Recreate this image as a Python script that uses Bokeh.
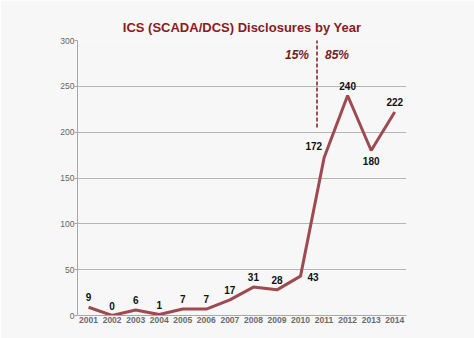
from bokeh.plotting import figure
from bokeh.models import ColumnDataSource, FixedTicker, Range1d, Label
from bokeh.core.properties import value
from bokeh.embed import file_html
from bokeh.resources import INLINE

years = [2001, 2002, 2003, 2004, 2005, 2006, 2007, 2008, 2009, 2010, 2011, 2012, 2013, 2014]
disclosures = [9, 0, 6, 1, 7, 7, 17, 31, 28, 43, 172, 240, 180, 222]
y_ticks = [0, 50, 100, 150, 200, 250, 300]
split_year = 2010.7
split_left = "15%"
split_right = "85%"
title_text = "ICS (SCADA/DCS) Disclosures by Year"

BG = "#f7f7f7"
LINE = "#9e4a50"
DARK = "#7a1c22"

p = figure(width=474, height=338, output_backend="svg", toolbar_location=None,
           x_range=Range1d(2000.53, 2014.5), y_range=Range1d(0, 300),
           min_border_left=77, min_border_right=68, min_border_top=40, min_border_bottom=23,
           background_fill_color=BG, border_fill_color=BG, outline_line_color=None)

p.title.text = title_text
p.title.align = "center"
p.title.text_color = "#8b1a22"
p.title.text_font = "Liberation Sans"
p.title.text_font_size = "13px"
p.title.text_font_style = "bold"
p.title.offset = 0
p.title.standoff = 12

p.xgrid.grid_line_color = None
p.ygrid.grid_line_color = "#b5b5b5"
p.ygrid.ticker = FixedTicker(ticks=y_ticks)

p.yaxis.ticker = FixedTicker(ticks=y_ticks)
p.yaxis.axis_line_color = "#a8a8a8"
p.yaxis.major_tick_line_color = "#a8a8a8"
p.yaxis.major_tick_out = 3
p.yaxis.major_tick_in = 0
p.yaxis.minor_tick_line_color = None
p.yaxis.major_label_text_font = "Liberation Sans"
p.yaxis.major_label_text_font_size = "8.5px"
p.yaxis.major_label_text_color = "#666666"
p.yaxis.major_label_standoff = 0

p.xaxis.ticker = FixedTicker(ticks=years)
p.xaxis.axis_line_color = "#a8a8a8"
p.xaxis.major_tick_line_color = None
p.xaxis.major_tick_out = 0
p.xaxis.major_tick_in = 0
p.xaxis.minor_tick_line_color = None
p.xaxis.major_label_text_font = "Liberation Sans"
p.xaxis.major_label_text_font_size = "8.5px"
p.xaxis.major_label_text_font_style = "bold"
p.xaxis.major_label_text_color = "#6a6a6a"
p.xaxis.major_label_standoff = 1

src = ColumnDataSource(dict(x=years, y=disclosures))
p.line("x", "y", source=src, line_color=LINE, line_width=3)

def labels(idx, **kw):
    s = ColumnDataSource(dict(x=[years[i] for i in idx], y=[disclosures[i] for i in idx],
                              t=[str(disclosures[i]) for i in idx]))
    p.text("x", "y", text="t", source=s, text_font=value("Liberation Sans"),
           text_font_style="bold", text_font_size="10px", text_color="#111111", **kw)

labels([0, 1, 2, 3, 4, 5, 6, 7, 8, 11, 13], text_align="center", text_baseline="middle", y_offset=-10)
labels([9], text_align="left", text_baseline="middle", x_offset=7, y_offset=1)
labels([10], text_align="right", text_baseline="middle", x_offset=-2, y_offset=-12)
labels([12], text_align="center", text_baseline="middle", y_offset=10)

p.segment(x0=[split_year], y0=[205], x1=[split_year], y1=[303], line_color=DARK,
          line_width=1.5, line_dash="4 2")

p.add_layout(Label(x=split_year, y=284, text=split_left, x_offset=-8, text_align="right",
                   text_baseline="middle", text_font="Liberation Sans", text_font_size="12px",
                   text_font_style="bold italic", text_color=DARK))
p.add_layout(Label(x=split_year, y=284, text=split_right, x_offset=8, text_align="left",
                   text_baseline="middle", text_font="Liberation Sans", text_font_size="12px",
                   text_font_style="bold italic", text_color=DARK))

open("out.html", "w").write(file_html(p, INLINE))
